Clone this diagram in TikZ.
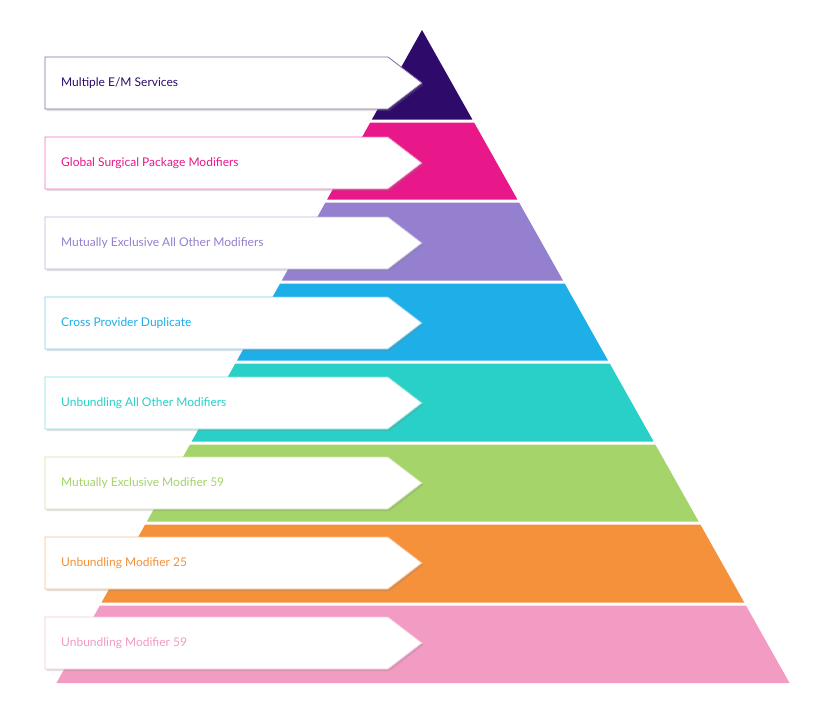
\documentclass[tikz,border=0pt]{standalone}
\usepackage{fontspec}
\setmainfont{Lato}
\usetikzlibrary{shadows}
\definecolor{c1}{HTML}{2E0A6B}
\definecolor{c2}{HTML}{E8178A}
\definecolor{c3}{HTML}{9580D0}
\definecolor{c4}{HTML}{1EAEE8}
\definecolor{c5}{HTML}{29D0C8}
\definecolor{c6}{HTML}{A5D46A}
\definecolor{c7}{HTML}{F5913A}
\definecolor{c8}{HTML}{F29BC3}
\begin{document}
\begin{tikzpicture}[x=1pt,y=-1pt,
  lbl/.style={font=\fontsize{12}{14}\selectfont,anchor=west,inner sep=0pt}]
\useasboundingbox (0,0) rectangle (825,718);
\def\ys{{30,121,201,282,362,443,523,604,683}}
\foreach \i/\c in {0/c1,1/c2,2/c3,3/c4,4/c5,5/c6,6/c7,7/c8}{
  \pgfmathsetmacro\ya{\ys[\i]+(\i>0?1.5:0)}
  \pgfmathsetmacro\yb{\ys[\i+1]-(\i<7?1.5:0)}
  \pgfmathsetmacro\la{422-0.5598*(\ya-30)}
  \pgfmathsetmacro\ra{422+0.5629*(\ya-30)}
  \pgfmathsetmacro\lb{422-0.5598*(\yb-30)}
  \pgfmathsetmacro\rb{422+0.5629*(\yb-30)}
  \fill[\c] (\la,\ya) -- (\ra,\ya) -- (\rb,\yb) -- (\lb,\yb) -- cycle;
}
\foreach \i/\c/\t in {0/c1/{Multiple E/M Services},1/c2/{Global Surgical Package Modifiers},2/c3/{Mutually Exclusive All Other Modifiers},3/c4/{Cross Provider Duplicate},4/c5/{Unbundling All Other Modifiers},5/c6/{Mutually Exclusive Modifier 59},6/c7/{Unbundling Modifier 25},7/c8/{Unbundling Modifier 59}}{
  \pgfmathsetmacro\yc{83+80*\i}
  \draw[\c!60,line width=0.8pt,fill=white,drop shadow={opacity=0.25,shadow xshift=1.5pt,shadow yshift=-2pt}]
    (45,\yc-26) -- (388,\yc-26) -- (422,\yc) -- (388,\yc+26) -- (45,\yc+26) -- cycle;
  \node[lbl,text=\c] (t\i) at (61,\yc) {\t};
}
\end{tikzpicture}
\end{document}
